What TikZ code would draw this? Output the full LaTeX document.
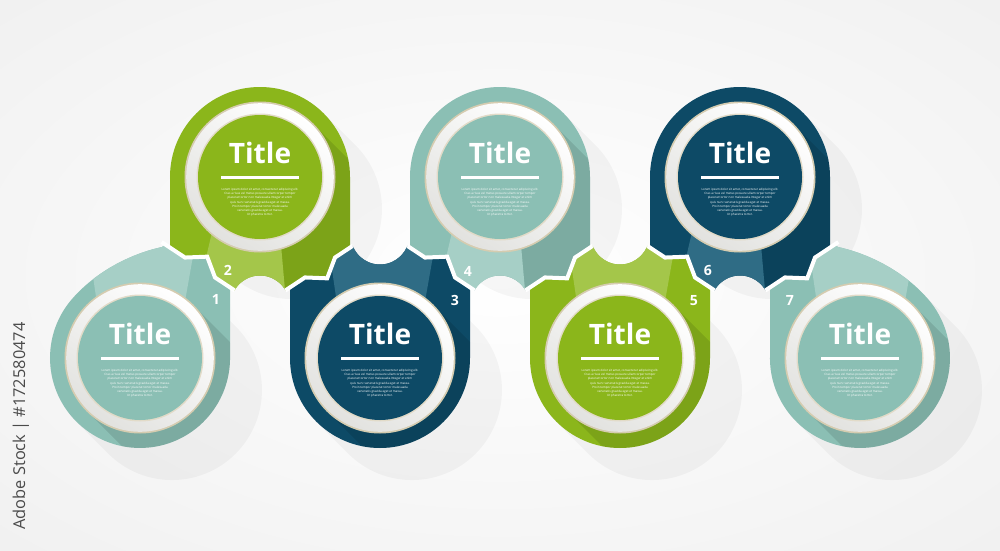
\documentclass[tikz,border=0pt]{standalone}
\usepackage{fontspec}
\setsansfont{Open Sans}
\usetikzlibrary{calc}

\definecolor{tealC}{HTML}{8BBFB4}
\definecolor{tealL}{HTML}{A6CFC6}
\definecolor{greenC}{HTML}{8BB61B}
\definecolor{greenL}{HTML}{A4C64A}
\definecolor{navyC}{HTML}{0D4A66}
\definecolor{navyL}{HTML}{2F6C85}
\definecolor{rimC}{HTML}{D5CCB0}
\definecolor{ringG}{HTML}{E2E2DF}
\definecolor{bgC}{HTML}{EBEBEB}
\definecolor{stockC}{HTML}{4A4A4A}

\pgfdeclareradialshading{bglight}{\pgfpoint{0bp}{0bp}}{color(0bp)=(white); color(50bp)=(bgC)}

% half planes on either side of a toothed seam (local x points to the next shape)
\newcommand{\beforeseam}{(0,-400) -- (0,-18) -- (13,0) -- (0,18) -- (0,400) -- (-900,400) -- (-900,-400) -- cycle}
\newcommand{\afterseam}{(0,-400) -- (0,-18) -- (13,0) -- (0,18) -- (0,400) -- (900,400) -- (900,-400) -- cycle}

% colour fill of a lower (tab up) and an upper (tab down) shape
\newcommand{\lowbody}[4]{%
  \fill[#3] (0,0) rectangle (1000,550);
  \fill[longshadow] ({#1+53},{#2+53}) -- ({#1+353},{#2-247}) -- ({#1+247},{#2-353}) -- ({#1-53},{#2-53}) -- cycle;
  \fill[#4] ({#1-35},#2) -- ({#1+35},#2) -- ({#1+65},{#2+170}) -- ({#1-60},{#2+170}) -- cycle;
}
\newcommand{\highbody}[4]{%
  \fill[#3] (0,0) rectangle (1000,550);
  \fill[longshadow] ({#1+53},{#2+53}) -- ({#1+353},{#2-247}) -- ({#1+247},{#2-353}) -- ({#1-53},{#2-53}) -- cycle;
  \fill[#4] ({#1-35},#2) -- ({#1+15},#2) -- ({#1+30},{#2-170}) -- ({#1-75},{#2-170}) -- cycle;
}

\begin{document}
\begin{tikzpicture}[x=0.2mm, y=0.2mm,
    seam/.style 2 args={shift={(#1,282.5)}, rotate=#2},
    seamline/.style={draw=white, line width=0.8mm, line join=miter},
    longshadow/.style={fill=black, fill opacity=0.1},
    dropshadow/.style={fill=black, fill opacity=0.035},
    titletxt/.style={text=white, font=\sffamily\bfseries\fontsize{16}{18}\selectfont, anchor=base, inner sep=0pt},
    bodytxt/.style={text=white, font=\sffamily\fontsize{1.7}{2.45}\selectfont, align=center, anchor=north, inner sep=0pt},
    numtxt/.style={text=white, font=\sffamily\bfseries\fontsize{8}{9}\selectfont, inner sep=0pt},
  ]
  \useasboundingbox (0,0) rectangle (1000,550);
  \shade[shading=bglight] (0,0) rectangle (1000,550);

  % soft shadows on the background
  \foreach \cx/\cy in {140/192, 260/373, 380/192, 500/373, 620/192, 740/373, 860/192}
    \fill[dropshadow] ({\cx+63.6},{\cy+63.6}) arc[start angle=45, end angle=225, radius=90]
      -- ++(32,-32) arc[start angle=225, end angle=405, radius=90] -- cycle;

  \begin{scope}[even odd rule]
    % gaps between the circles
    \clip (-10,-10) rectangle (1010,560)
      (230.5,-5) -- (230.5,245) arc[start angle=180, end angle=0, radius=29.5] -- (289.5,-5) -- cycle
      (470.5,-5) -- (470.5,245) arc[start angle=180, end angle=0, radius=29.5] -- (529.5,-5) -- cycle
      (710.5,-5) -- (710.5,245) arc[start angle=180, end angle=0, radius=29.5] -- (769.5,-5) -- cycle
      (350.5,555) -- (350.5,315) arc[start angle=180, end angle=360, radius=29.5] -- (409.5,555) -- cycle
      (590.5,555) -- (590.5,315) arc[start angle=180, end angle=360, radius=29.5] -- (649.5,555) -- cycle;

    % shape 1
    \begin{scope}
      \clip[seam={200}{56.45}] \beforeseam;
      \clip (230,192) -- (230,350) -- (175,312) -- (162,303) .. controls (130,296) and (95,278) ..
        (71.1,249.9) arc[start angle=140, end angle=360, radius=90] -- cycle;
      \lowbody{140}{192}{tealC}{tealL}
    \end{scope}
    % shape 2
    \begin{scope}
      \clip[seam={200}{56.45}] \afterseam;
      \clip[seam={320}{-56.45}] \beforeseam;
      \clip (170,210) -- (350,210) -- (350,373) arc[start angle=0, end angle=180, radius=90] -- cycle;
      \highbody{260}{373}{greenC}{greenL}
    \end{scope}
    % shape 3
    \begin{scope}
      \clip[seam={320}{-56.45}] \afterseam;
      \clip[seam={440}{56.45}] \beforeseam;
      \clip (290,192) arc[start angle=180, end angle=360, radius=90] -- (470,350) -- (290,350) -- cycle;
      \lowbody{380}{192}{navyC}{navyL}
    \end{scope}
    % shape 4
    \begin{scope}
      \clip[seam={440}{56.45}] \afterseam;
      \clip[seam={560}{-56.45}] \beforeseam;
      \clip (410,210) -- (590,210) -- (590,373) arc[start angle=0, end angle=180, radius=90] -- cycle;
      \highbody{500}{373}{tealC}{tealL}
    \end{scope}
    % shape 5
    \begin{scope}
      \clip[seam={560}{-56.45}] \afterseam;
      \clip[seam={680}{56.45}] \beforeseam;
      \clip (530,192) arc[start angle=180, end angle=360, radius=90] -- (710,350) -- (530,350) -- cycle;
      \lowbody{620}{192}{greenC}{greenL}
    \end{scope}
    % shape 6
    \begin{scope}
      \clip[seam={680}{56.45}] \afterseam;
      \clip[seam={800}{-56.45}] \beforeseam;
      \clip (650,210) -- (830,210) -- (830,373) arc[start angle=0, end angle=180, radius=90] -- cycle;
      \highbody{740}{373}{navyC}{navyL}
    \end{scope}
    % shape 7
    \begin{scope}
      \clip[seam={800}{-56.45}] \afterseam;
      \clip (770,192) -- (770,350) -- (825,312) -- (838,303) .. controls (870,296) and (905,278) ..
        (928.9,249.9) arc[start angle=40, end angle=-180, radius=90] -- cycle;
      \lowbody{860}{192}{tealC}{tealL}
    \end{scope}

    % white seams
    \foreach \mx/\ang in {200/56.45, 320/-56.45, 440/56.45, 560/-56.45, 680/56.45, 800/-56.45}
      \draw[seamline, seam={\mx}{\ang}] (0,-46) -- (0,-18) -- (13,0) -- (0,18) -- (0,46);
  \end{scope}

  % rings and texts
  \foreach \k/\cx/\cy/\col in {1/140/192/tealC, 2/260/373/greenC, 3/380/192/navyC, 4/500/373/tealC,
                               5/620/192/greenC, 6/740/373/navyC, 7/860/192/tealC} {
    \fill[rimC] (\cx,\cy) circle[radius=75.5];
    \shade[top color=white, bottom color=ringG, shading angle=-35] (\cx,\cy) circle[radius=73.8];
    \fill[rimC!70!white] (\cx,\cy) circle[radius=63.5];
    \fill[\col] (\cx,\cy) circle[radius=62];
    \node[titletxt] (title\k) at (\cx,{\cy+14}) {Title};
    \draw[white, line width=0.6mm] ({\cx-39},\cy) -- ({\cx+39},\cy);
    \node[bodytxt] (text\k) at (\cx,{\cy-10.5}) {Lorem ipsum dolor sit amet, consectetur adipiscing elit.\\
      Cras a risus vel metus posuere ullamcorper tempor\\
      placerat tortor non malesuada.Integer et enim\\
      quis nunc venenatis gravida eget et massa.\\
      Proin tempor placerat tortor  malesuada\\
      venenatis gravida eget et massa.\\
      Ut pharetra tortor.};
  }

  % step numbers
  \foreach \k/\nx/\ny in {1/216/251, 2/228/280, 3/455/250, 4/468/279, 5/694/249, 6/708/280, 7/790/250}
    \node[numtxt] (num\k) at (\nx,\ny) {\k};

  \node[rotate=90, text=stockC, font=\sffamily\fontsize{9.3}{11}\selectfont] (stock) at (21,124) {Adobe Stock | \#172580474};
\end{tikzpicture}
\end{document}
